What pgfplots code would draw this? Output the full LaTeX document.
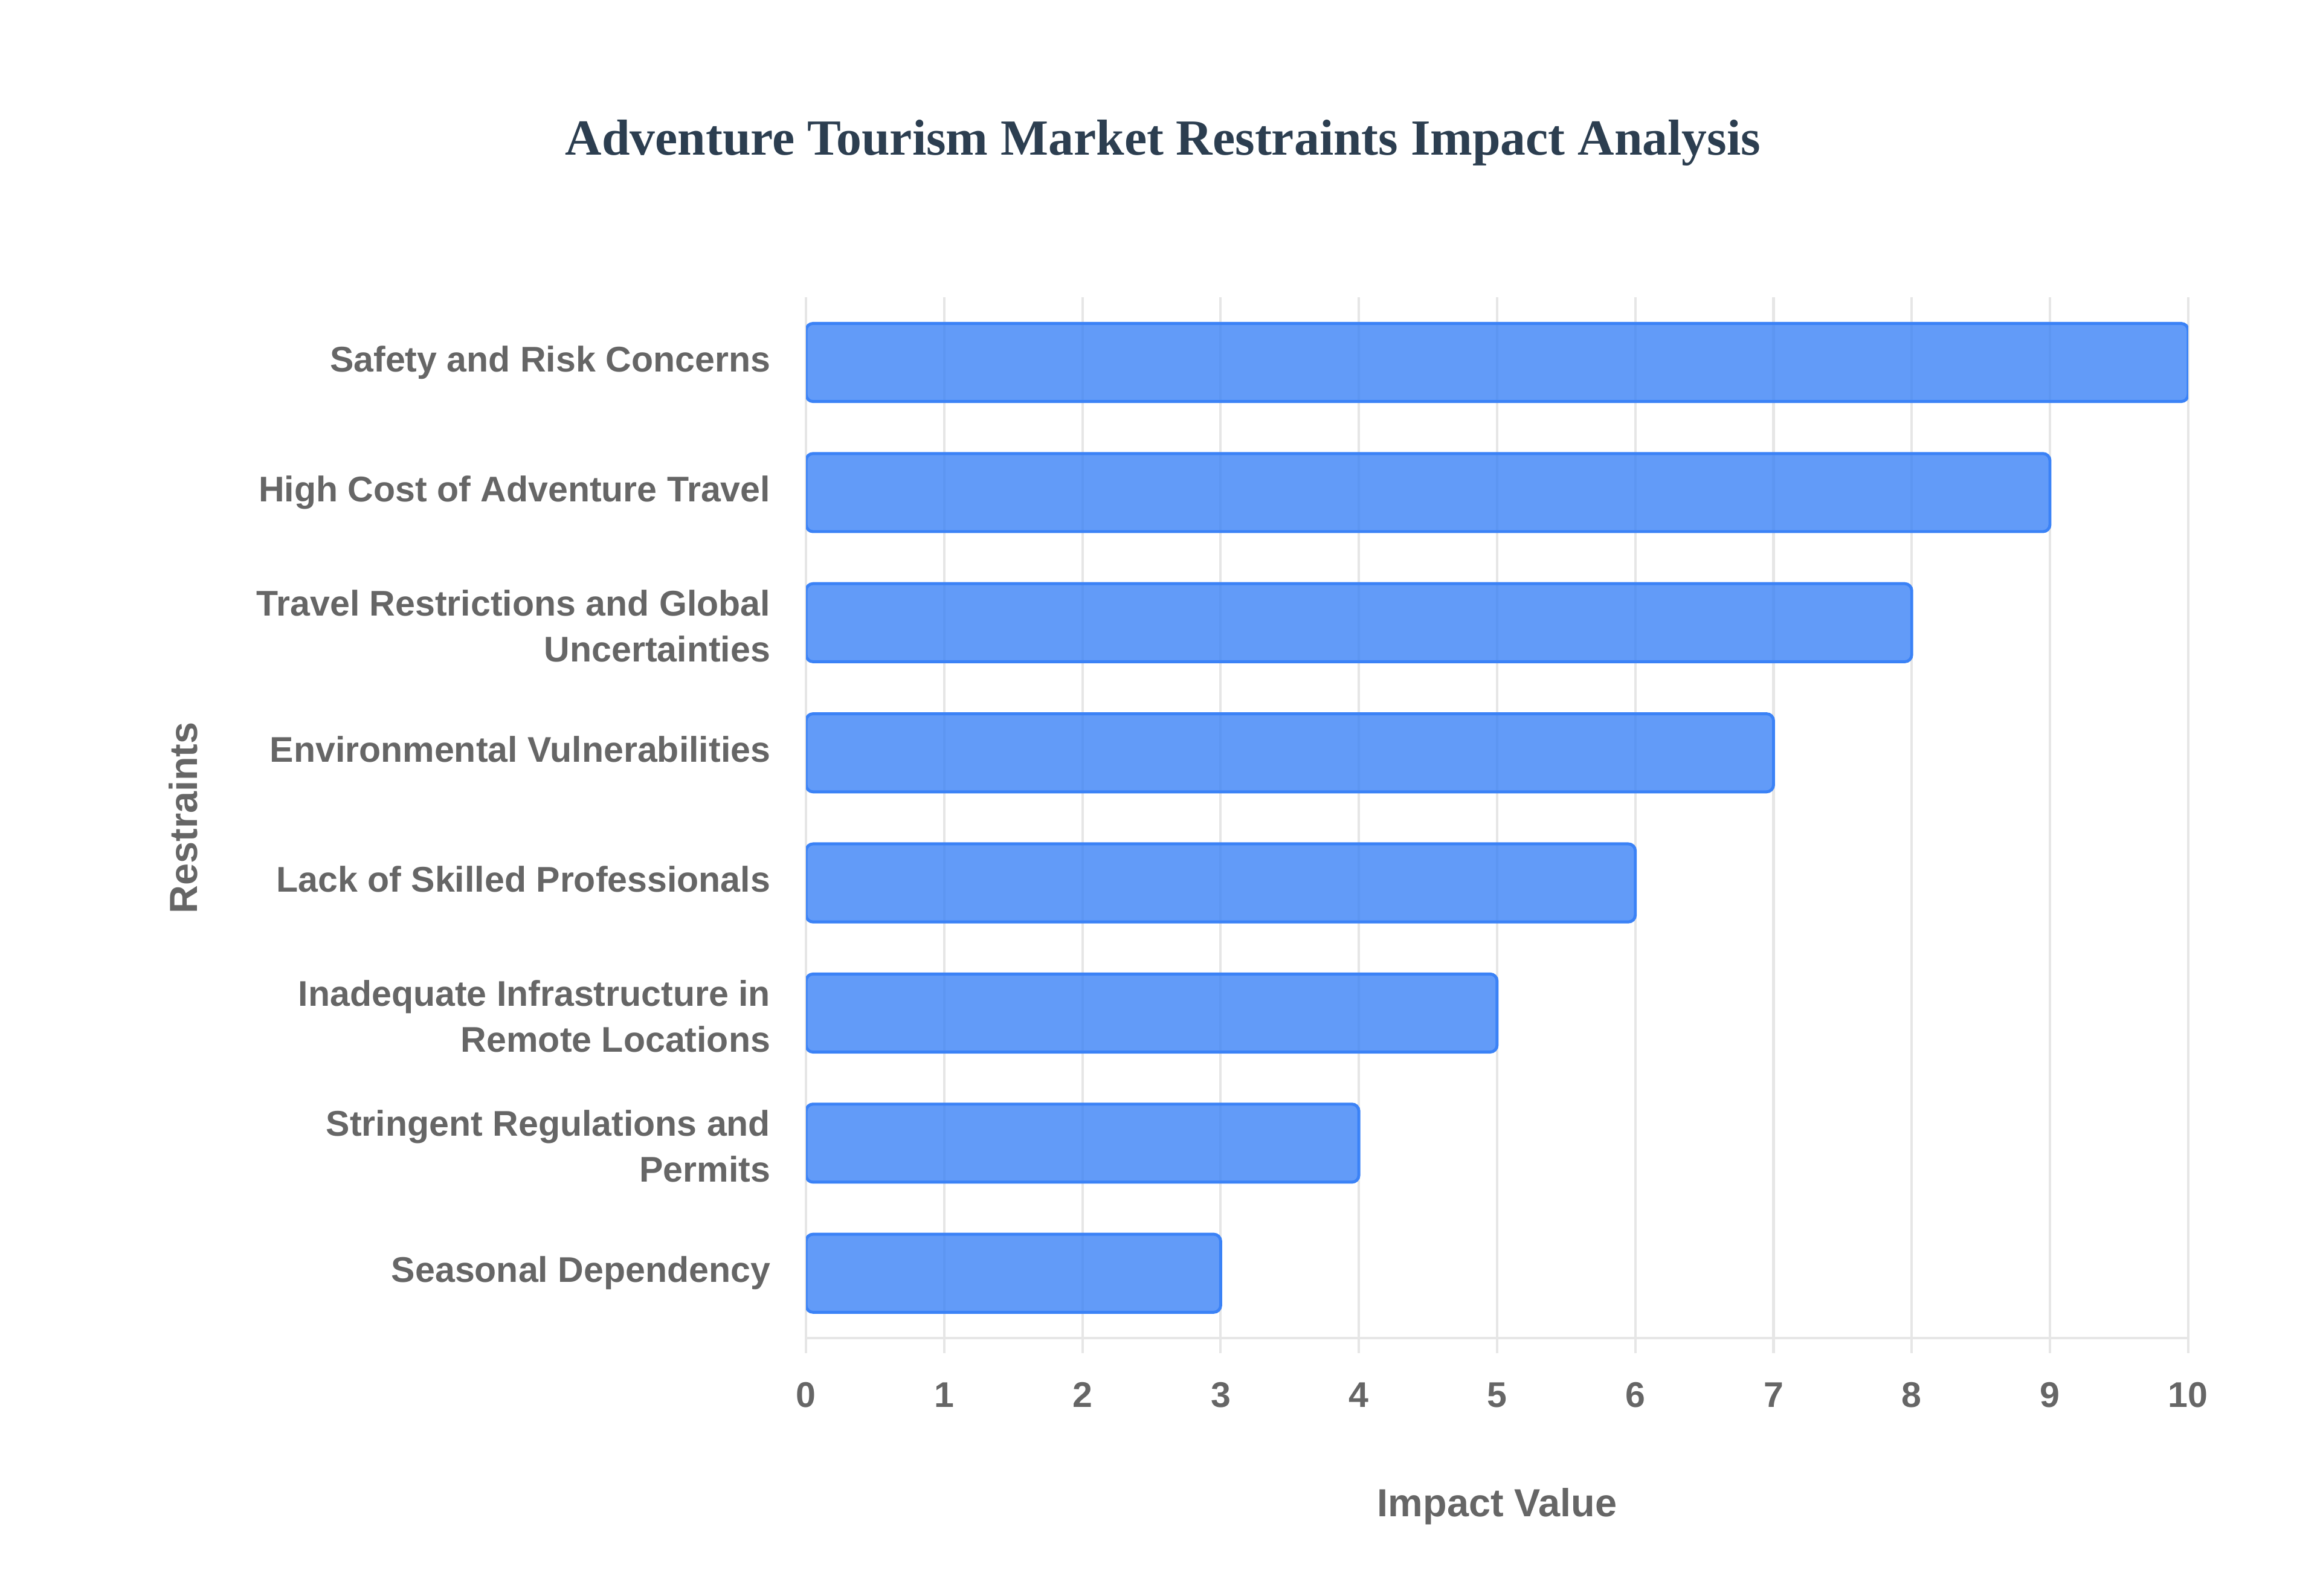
\documentclass[border=0pt]{standalone}
\usepackage{pgfplots}
\pgfplotsset{compat=1.18}
\usepackage{fontspec}
\setmainfont{Liberation Sans}
\newfontfamily\titlefont{Liberation Serif}
\definecolor{barblue}{HTML}{3B82F6}
\definecolor{txtgray}{HTML}{666666}
\definecolor{gridgray}{HTML}{E6E6E6}
\definecolor{titlecol}{HTML}{2C3E50}
\pgfplotstableread[col sep=comma]{
idx,value
0,3
1,4
2,5
3,6
4,7
5,8
6,9
7,10
}\restraints
\begin{document}
\begin{tikzpicture}
\path[use as bounding box] (-162.6pt,-51.9pt) rectangle (305.4pt,270pt);
\begin{axis}[
  at={(0,0)}, anchor=south west,
  scale only axis, width=278.8pt, height=210pt,
  xbar, bar width=0.6,
  xmin=0, xmax=10, ymin=-0.5, ymax=7.5,
  xtick={0,1,...,10},
  ytick={0,1,...,7},
  yticklabels={Seasonal Dependency,
    {Stringent Regulations and\\Permits},
    {Inadequate Infrastructure in\\Remote Locations},
    Lack of Skilled Professionals,
    Environmental Vulnerabilities,
    {Travel Restrictions and Global\\Uncertainties},
    High Cost of Adventure Travel,
    Safety and Risk Concerns},
  axis x line*=bottom, axis y line*=left,
  axis line style={draw=gridgray, line width=0.5pt, -},
  xmajorgrids, grid style={draw=gridgray, line width=0.5pt},
  xtick style={draw=gridgray, line width=0.5pt},
  ytick style={draw=none},
  major tick length=3pt, tick align=outside,
  /pgf/number format/assume math mode=true,
  tick label style={font=\bfseries\fontsize{7.2}{9.3}\selectfont, text=txtgray},
  yticklabel style={align=right, inner sep=0pt, xshift=-4pt},
  xticklabel style={inner sep=0pt, anchor=center, yshift=-9pt},
  typeset ticklabels with strut,
  xlabel={Impact Value},
  ylabel={Restraints},
  xlabel style={at={(axis description cs:0.5,0)}, anchor=center, yshift=-33.9pt,
    font=\bfseries\fontsize{7.9}{9.5}\selectfont, text=txtgray},
  ylabel style={at={(axis description cs:0,0.5)}, anchor=center, yshift=125.6pt,
    font=\bfseries\fontsize{7.9}{9.5}\selectfont, text=txtgray},
  title={Adventure Tourism Market Restraints Impact Analysis},
  title style={at={(axis description cs:0,0)}, anchor=center, xshift=72pt, yshift=235.2pt,
    font=\titlefont\bfseries\fontsize{10.2}{12}\selectfont, text=titlecol},
]
\addplot[fill=barblue, fill opacity=0.8, draw=barblue, line width=0.6pt, rounded corners=1.4pt]
  table[x=value, y=idx] {\restraints};
\end{axis}
\end{tikzpicture}
\end{document}
